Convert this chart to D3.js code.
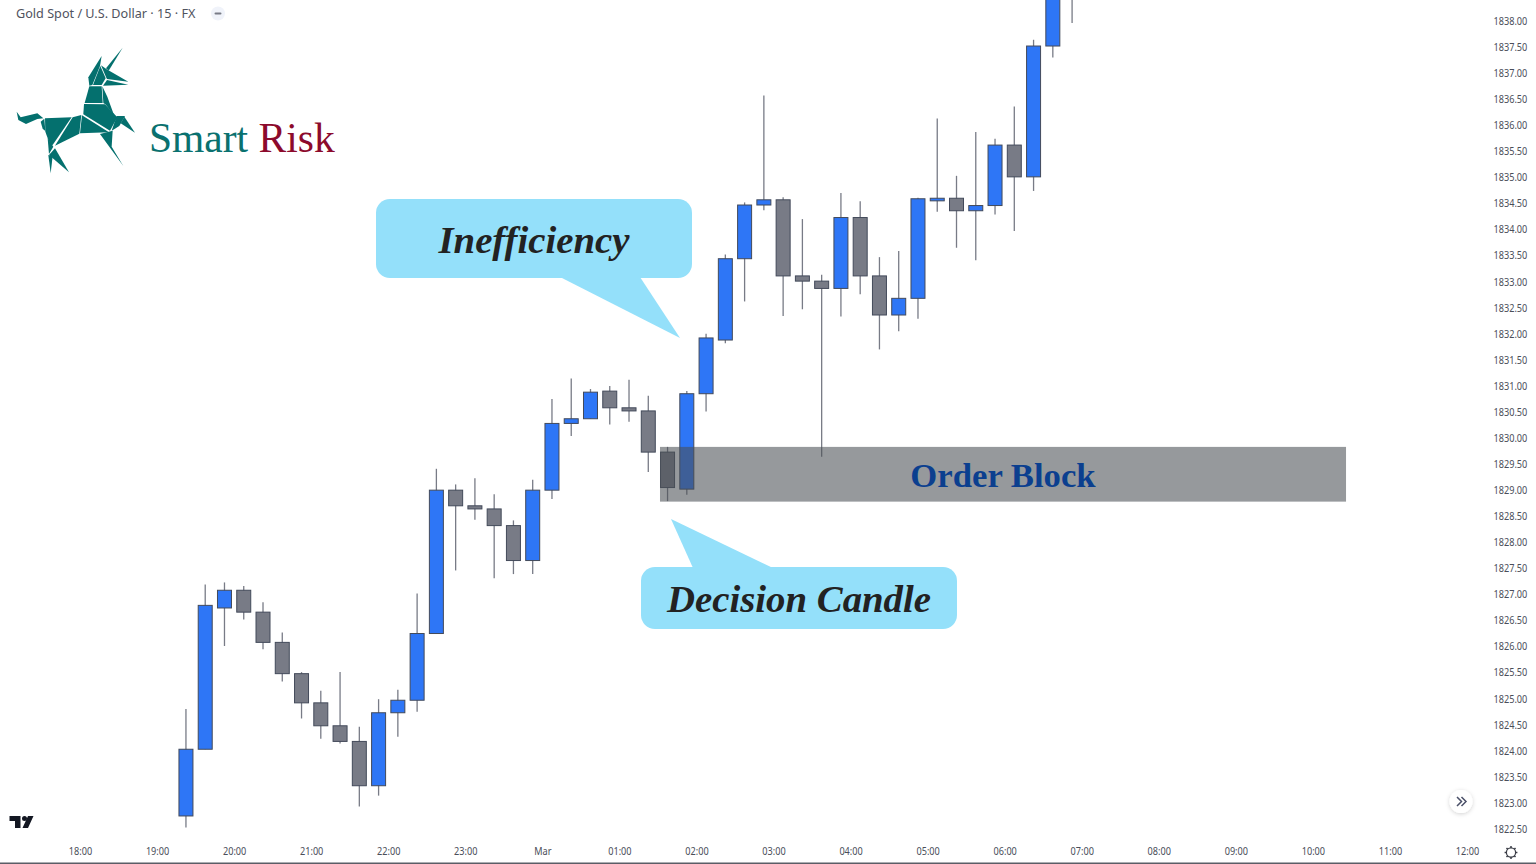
<!doctype html>
<html>
<head>
<meta charset="utf-8">
<script src="https://d3js.org/d3.v7.min.js"></script>
<style>
    html, body { margin: 0; padding: 0; background: #fff; overflow: hidden; }
    svg { display: block; }
    .axis text { font-family: "Noto Sans", sans-serif; font-size: 10.5px; fill: #4a4e59; }
</style>
</head>
<body>
<div id="chart"></div>
<script>
// 15 minute candles
const opens = [1822.75, 1824.03, 1826.74, 1827.08, 1826.66, 1826.08, 1825.48, 1824.92, 1824.48, 1824.18, 1823.33, 1824.73,
    1824.97, 1826.25, 1829.00, 1828.70, 1828.64, 1828.32, 1827.65, 1829.00, 1830.28, 1830.37, 1830.90, 1830.58,
    1830.52, 1829.73, 1829.02, 1830.85, 1831.88, 1833.44, 1834.47, 1834.57, 1833.11, 1833.01, 1832.87, 1834.23,
    1833.11, 1832.36, 1832.68, 1834.55, 1834.60, 1834.36, 1834.46, 1835.62, 1835.01, 1837.52, 1838.60];
const closes = [1824.03, 1826.79, 1827.08, 1826.66, 1826.08, 1825.48, 1824.92, 1824.48, 1824.18, 1823.33, 1824.73, 1824.97,
    1826.25, 1829.00, 1828.70, 1828.64, 1828.32, 1827.65, 1829.00, 1830.28, 1830.37, 1830.88, 1830.58, 1830.52,
    1829.73, 1829.05, 1830.85, 1831.92, 1833.44, 1834.47, 1834.57, 1833.11, 1833.01, 1832.87, 1834.23, 1833.11,
    1832.36, 1832.68, 1834.59, 1834.60, 1834.36, 1834.46, 1835.62, 1835.01, 1837.52, 1838.60, 1839.00];
const highs = [1824.80, 1827.19, 1827.23, 1827.16, 1826.85, 1826.27, 1825.51, 1825.15, 1825.51, 1824.46, 1824.99, 1825.17,
    1827.02, 1829.41, 1829.11, 1829.23, 1828.92, 1828.42, 1829.20, 1830.75, 1831.14, 1830.94, 1831.00, 1831.12,
    1830.81, 1829.83, 1830.90, 1832.00, 1833.52, 1834.52, 1836.57, 1834.62, 1834.20, 1833.13, 1834.70, 1834.54,
    1833.47, 1833.59, 1834.61, 1836.13, 1835.03, 1835.87, 1835.74, 1836.36, 1837.64, 1838.80, 1839.20];
const lows = [1822.53, 1824.03, 1826.01, 1826.52, 1825.95, 1825.33, 1824.62, 1824.23, 1824.14, 1822.93, 1823.14, 1824.27,
    1824.75, 1826.25, 1827.46, 1828.43, 1827.31, 1827.39, 1827.39, 1828.83, 1830.04, 1830.37, 1830.26, 1830.31,
    1829.35, 1828.79, 1828.91, 1830.51, 1831.82, 1832.62, 1834.37, 1832.34, 1832.47, 1829.64, 1832.33, 1832.76,
    1831.70, 1832.05, 1832.29, 1834.34, 1833.65, 1833.41, 1834.29, 1833.97, 1834.74, 1837.30, 1837.96];

const priceTicks = [1838, 1837.5, 1837, 1836.5, 1836, 1835.5, 1835, 1834.5, 1834, 1833.5, 1833, 1832.5, 1832, 1831.5, 1831,
    1830.5, 1830, 1829.5, 1829, 1828.5, 1828, 1827.5, 1827, 1826.5, 1826, 1825.5, 1825, 1824.5, 1824, 1823.5, 1823, 1822.5];
const timeTicks = [18, 19, 20, 21, 22, 23, 24, 25, 26, 27, 28, 29, 30, 31, 32, 33, 34, 35, 36];
const timeLabels = ["18:00", "19:00", "20:00", "21:00", "22:00", "23:00", "Mar", "01:00", "02:00", "03:00", "04:00", "05:00",
    "06:00", "07:00", "08:00", "09:00", "10:00", "11:00", "12:00"];

// hours since the start of the previous day
const firstBar = 19.375, barHours = 0.25;
const orderBlock = {start: 25.527, end: 34.43, top: 1829.83, bottom: 1828.78};

// unicorn logo shards, in the 3x units of the logo drawing
const logoShards = [
    [[368,143],[318,205],[326,212]],
    [[305,168],[265,232],[268,257],[277,255],[300,198]],
    [[301,198],[279,255],[305,255],[317,235]],
    [[303,196],[320,208],[385,245],[321,237],[319,233]],
    [[321,240],[385,254],[309,257]],
    [[268,259],[305,259],[308,309],[254,309]],
    [[307,259],[322,290],[342,345],[316,313],[310,309]],
    [[252,312],[315,313],[352,352],[330,392],[250,343]],
    [[246,346],[327,397],[240,400]],
    [[350,348],[375,348],[358,378],[335,392]],
    [[373,350],[405,398],[362,370]],
    [[300,402],[338,392],[335,440],[370,498]],
    [[135,355],[215,352],[160,432],[155,438],[145,420],[136,395]],
    [[218,352],[244,345],[238,401],[165,437]],
    [[122,365],[133,356],[136,393],[128,386]],
    [[143,415],[160,440],[147,462]],
    [[147,465],[165,445],[207,517]],
    [[145,465],[158,468],[152,520]],
    [[50,335],[62,352],[112,340],[130,355],[112,357],[78,372],[55,360]]
];

const width = 1536, height = 864;

const x = d3.scaleLinear().domain([18, 36]).range([80, 1467]);
const y = d3.scaleLinear().domain([1822.5, 1838]).range([829, 21]);

const svg = d3.select("#chart").append("svg")
    .attr("width", width)
    .attr("height", height);

svg.append("rect").attr("width", width).attr("height", height).attr("fill", "#fff");

const candles = opens.map(function (d, i) {
    return {t: firstBar + i * barHours, open: d, close: closes[i], high: highs[i], low: lows[i]};
});

svg.selectAll("line.wick")
    .data(candles)
    .enter().append("line")
    .attr("class", "wick")
    .attr("x1", d => x(d.t))
    .attr("x2", d => x(d.t))
    .attr("y1", d => y(d.high))
    .attr("y2", d => y(d.low))
    .attr("stroke", "#787b86")
    .attr("stroke-width", 1.3);

svg.selectAll("rect.body")
    .data(candles)
    .enter().append("rect")
    .attr("class", "body")
    .attr("x", d => x(d.t) - 7)
    .attr("width", 14)
    .attr("y", d => y(Math.max(d.open, d.close)))
    .attr("height", d => Math.abs(y(d.open) - y(d.close)))
    .attr("fill", d => d.close >= d.open ? "#2e76f6" : "#787b86")
    .attr("stroke", "#434a5a")
    .attr("stroke-width", 1);

// order block sits over the candles
svg.append("rect")
    .attr("x", x(orderBlock.start))
    .attr("y", y(orderBlock.top))
    .attr("width", x(orderBlock.end) - x(orderBlock.start))
    .attr("height", y(orderBlock.bottom) - y(orderBlock.top))
    .attr("fill", "#4a5055")
    .attr("fill-opacity", 0.58);

svg.append("text")
    .attr("x", 1003)
    .attr("y", 487)
    .attr("text-anchor", "middle")
    .attr("font-family", "Liberation Serif")
    .attr("font-weight", "bold")
    .attr("font-size", 34.7)
    .attr("fill", "#0b3f8f")
    .text("Order Block");

function callout(bx, by, bw, bh, tail, label, ty, size) {
    const g = svg.append("g");
    g.append("rect")
        .attr("x", bx).attr("y", by)
        .attr("width", bw).attr("height", bh)
        .attr("rx", 14)
        .attr("fill", "#94e0fa");
    g.append("path")
        .attr("d", d3.line()(tail) + "Z")
        .attr("fill", "#94e0fa");
    g.append("text")
        .attr("x", bx + bw / 2)
        .attr("y", ty)
        .attr("text-anchor", "middle")
        .attr("font-family", "Liberation Serif")
        .attr("font-weight", "bold")
        .attr("font-style", "italic")
        .attr("font-size", size)
        .attr("fill", "#222")
        .text(label);
}
callout(376, 199, 316, 79, [[560, 277], [680, 338], [640, 277]], "Inefficiency", 253, 38.8);
callout(641, 567, 316, 62, [[693, 568], [671, 519], [773, 568]], "Decision Candle", 612, 38.8);

// logo
const logo = svg.append("g").attr("transform", "scale(0.3333)");
logo.selectAll("polygon")
    .data(logoShards)
    .enter().append("polygon")
    .attr("points", d => d.join(" "))
    .attr("fill", "#04706e");

const brand = svg.append("text")
    .attr("x", 149)
    .attr("y", 152)
    .attr("font-family", "Liberation Serif")
    .attr("font-size", 41.5);
brand.append("tspan").attr("fill", "#0a716f").text("Smart ");
brand.append("tspan").attr("fill", "#8c0a2c").text("Risk");

// legend line
svg.append("text")
    .attr("x", 16)
    .attr("y", 18)
    .attr("font-family", "Noto Sans")
    .attr("font-size", 12.65)
    .attr("fill", "#50535e")
    .text("Gold Spot / U.S. Dollar · 15 · FX");
svg.append("circle").attr("cx", 218).attr("cy", 13.5).attr("r", 7).attr("fill", "#f0f3fa");
svg.append("rect").attr("x", 214.5).attr("y", 12.5).attr("width", 7).attr("height", 2).attr("rx", 1).attr("fill", "#787b86");

// axes
const yAxis = d3.axisRight(y)
    .tickValues(priceTicks)
    .tickSize(0)
    .tickPadding(0)
    .tickFormat(d3.format(".2f"));
const yG = svg.append("g")
    .attr("class", "axis")
    .attr("transform", "translate(1493.500,0)")
    .call(yAxis);
yG.select(".domain").remove();

const xAxis = d3.axisBottom(x)
    .tickValues(timeTicks)
    .tickSize(0)
    .tickPadding(0)
    .tickFormat((d, i) => timeLabels[i]);
const xG = svg.append("g")
    .attr("class", "axis")
    .attr("transform", "translate(0,848)")
    .call(xAxis);
xG.select(".domain").remove();

// the axis font is narrower than anything installed, squeeze it
svg.selectAll(".axis text").each(function () {
    d3.select(this)
        .attr("textLength", this.getComputedTextLength() * 0.87)
        .attr("lengthAdjust", "spacingAndGlyphs");
});

svg.append("rect").attr("x", 0).attr("y", 862.5).attr("width", width).attr("height", 1.5).attr("fill", "#5a5d66");

// scroll button
const shadow = svg.append("defs").append("filter").attr("id", "soft")
    .attr("x", "-50%").attr("y", "-50%").attr("width", "200%").attr("height", "200%");
shadow.append("feDropShadow").attr("dx", 0).attr("dy", 1).attr("stdDeviation", 2).attr("flood-color", "#000").attr("flood-opacity", 0.18);
svg.append("circle").attr("cx", 1461).attr("cy", 801.5).attr("r", 11.5).attr("fill", "#fff").attr("filter", "url(#soft)");
svg.append("path")
    .attr("d", "M1457 797l4.5 4.5l-4.5 4.5M1461.5 797l4.5 4.5l-4.5 4.5")
    .attr("fill", "none")
    .attr("stroke", "#4a5068")
    .attr("stroke-width", 1.5);

// settings gear
const gear = svg.append("g").attr("transform", "translate(1511,852.5)");
gear.append("circle").attr("r", 4.6).attr("fill", "none").attr("stroke", "#3a3d46").attr("stroke-width", 1.2);
gear.selectAll("line")
    .data(d3.range(8))
    .enter().append("line")
    .attr("x1", d => 4.6 * Math.cos(d * Math.PI / 4))
    .attr("y1", d => 4.6 * Math.sin(d * Math.PI / 4))
    .attr("x2", d => 6.4 * Math.cos(d * Math.PI / 4))
    .attr("y2", d => 6.4 * Math.sin(d * Math.PI / 4))
    .attr("stroke", "#3a3d46")
    .attr("stroke-width", 1.5);

// tradingview mark
svg.append("path")
    .attr("d", "M9.500 816h11v12h-5.500v-7h-5.500zM28 816h5.500l-5.500 12h-5.500z")
    .attr("fill", "#131722");
svg.append("circle").attr("cx", 24.500).attr("cy", 818.500).attr("r", 2.500).attr("fill", "#131722");
</script>
</body>
</html>
